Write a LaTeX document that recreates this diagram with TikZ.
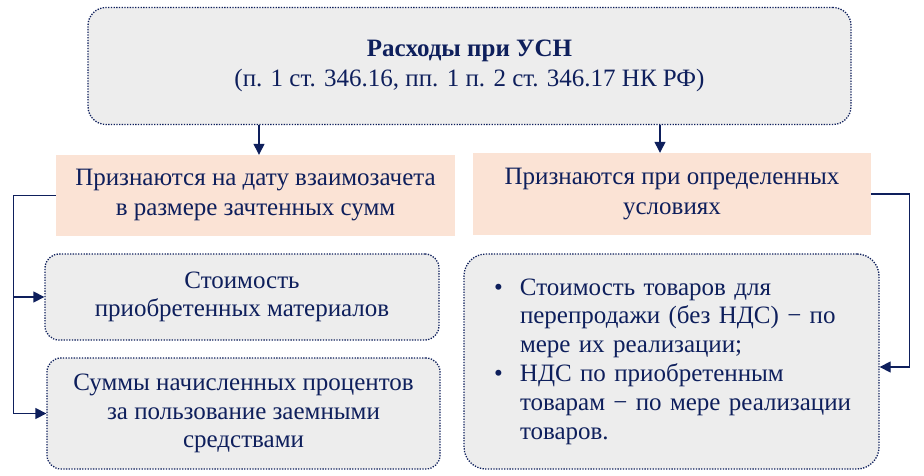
\documentclass[tikz,border=0pt]{standalone}
\usepackage{fontspec}
\setmainfont{Liberation Serif}
\usetikzlibrary{arrows.meta,positioning}
\definecolor{navy}{HTML}{0E1F5C}
\definecolor{peach}{HTML}{FBE3D5}
\definecolor{lgray}{HTML}{EDEDED}
\newcommand{\bul}{\makebox[26pt][l]{\textbullet}}
\newcommand{\ind}{\hspace*{26pt}}
\begin{document}
\begin{tikzpicture}[x=1pt,y=1pt,
  txt/.style={text=navy,font=\fontsize{25}{28.5}\selectfont,align=center},
  dotbox/.style={txt,fill=lgray,draw=navy,line width=1.3pt,dash pattern=on 1.3pt off 1.4pt,rounded corners=18pt,inner sep=0pt},
  peachbox/.style={txt,fill=peach,inner sep=0pt},
  conn/.style={draw=navy,line width=1.3pt,-{Triangle[length=11pt,width=11pt]}}]
\useasboundingbox (0,0) rectangle (924,-476);
\node[dotbox,minimum width=763pt,minimum height=117pt,font=\fontsize{25}{30}\selectfont] (top) at (469.5,-66)
  {\textbf{Расходы при УСН}\\(п. 1 ст. 346.16, пп. 1 п. 2 ст. 346.17 НК РФ)};
\node[peachbox,minimum width=399pt,minimum height=81pt,font=\fontsize{25}{30}\selectfont] (lo) at (255.5,-195.5)
  {Признаются на дату взаимозачета\\в размере зачтенных сумм};
\node[peachbox,minimum width=398pt,minimum height=82pt,font=\fontsize{25}{30}\selectfont] (ro) at (672,-194)
  {Признаются при определенных\\условиях};
\node[dotbox,minimum width=394pt,minimum height=86pt,rounded corners=14pt] (b1) at (242,-297)
  {Стоимость\\приобретенных материалов};
\node[dotbox,minimum width=393pt,minimum height=111pt,rounded corners=14pt] (b2) at (243.5,-413.5)
  {Суммы начисленных процентов\\за пользование заемными\\средствами};
\node[dotbox,minimum width=415pt,minimum height=215pt,text width=355pt,inner xsep=30pt,align=left,rounded corners=22pt,font=\fontsize{25}{28.8}\selectfont] (rb) at (671.5,-361.5)
  {\mbox{\bul Стоимость товаров для}\\
   \mbox{\ind перепродажи (без НДС) − по}\\
   \mbox{\ind мере их реализации;}\\
   \mbox{\bul НДС по приобретенным}\\
   \mbox{\ind товарам − по мере реализации}\\
   \mbox{\ind товаров.}};
\coordinate (c1) at (259,0);
\coordinate (c2) at (660,0);
\coordinate (ra) at (0,-367);
\draw[conn] (c1 |- top.south) -- (c1 |- lo.north);
\draw[conn] (c2 |- top.south) -- (c2 |- ro.north);
\draw[conn] (lo.west) -- ++(-42,0) |- (b1.west);
\draw[conn] (lo.west) -- ++(-42,0) |- (b2.west);
\draw[conn] (ro.east) -- ++(38,0) |- (rb.east |- ra);
\end{tikzpicture}
\end{document}
